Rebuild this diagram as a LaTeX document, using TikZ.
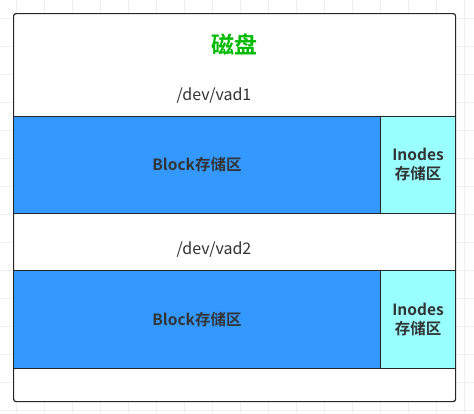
\documentclass[tikz,border=0pt]{standalone}
\usepackage{fontspec}
\newfontfamily\cjk{Noto Sans CJK SC}
\newfontfamily\cjkb{Noto Sans CJK SC Bold}
\definecolor{blk}{HTML}{3399FF}
\definecolor{ind}{HTML}{99FFFF}
\definecolor{ttl}{HTML}{00BB00}
\definecolor{txt}{HTML}{333333}
\definecolor{grd}{HTML}{EFEFEF}
\begin{document}
\begin{tikzpicture}[x=1pt,y=-1pt,
  blockbox/.style={draw=black!85,line width=1pt,fill=blk},
  inodebox/.style={draw=black!85,line width=1pt,fill=ind},
  lbl/.style={font=\cjkb\fontsize{15.5}{19}\selectfont,text=txt,align=center},
  dev/.style={font=\cjk\fontsize{16}{18}\selectfont,text=txt}]
\useasboundingbox (0,0) rectangle (474,413);
\fill[white] (0,0) rectangle (474,413);
\foreach \x in {16,44,...,474} \draw[grd,line width=0.5pt] (\x,0) -- (\x,413);
\foreach \y in {18,46,...,413} \draw[grd,line width=0.5pt] (0,\y) -- (474,\y);
\node[draw=black!85,line width=1.2pt,fill=white,rounded corners=2.5pt,minimum width=442pt,minimum height=388pt,anchor=north west,inner sep=0pt] (disk) at (13,13) {};
\node[blockbox,anchor=north west,minimum width=367pt,minimum height=97pt,inner sep=0pt] (b1) at (13,116) {};
\node[inodebox,anchor=north west,minimum width=75pt,minimum height=97pt,inner sep=0pt] (i1) at (380,116) {};
\node[blockbox,anchor=north west,minimum width=367pt,minimum height=98pt,inner sep=0pt] (b2) at (13,270) {};
\node[inodebox,anchor=north west,minimum width=75pt,minimum height=98pt,inner sep=0pt] (i2) at (380,270) {};
\node[font=\cjkb\fontsize{23}{26}\selectfont,text=ttl] (title) at (234,44) {磁盘};
\node[dev] (d1) at (214,96) {/dev/vad1};
\node[dev] (d2) at (214,250) {/dev/vad2};
\node[lbl] (bl1) at (b1.center) {Block存储区};
\node[lbl] (in1) at (i1.center) {Inodes\\存储区};
\node[lbl] (bl2) at (b2.center) {Block存储区};
\node[lbl] (in2) at (i2.center) {Inodes\\存储区};
\end{tikzpicture}
\end{document}
